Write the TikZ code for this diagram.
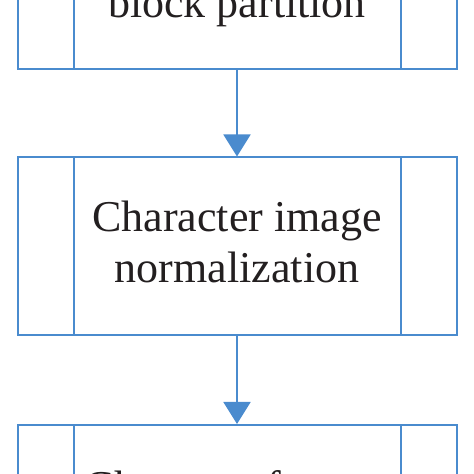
\documentclass[tikz,border=0pt]{standalone}
\usepackage{fontspec}
\setmainfont{Liberation Serif}
\usetikzlibrary{positioning,arrows.meta}

\definecolor{flowblue}{RGB}{74,139,206}
\definecolor{inktext}{RGB}{35,31,32}

\tikzset{
    procbox/.style={draw=flowblue, line width=2pt, rectangle,
        minimum width=439pt, minimum height=177.5pt,
        path picture={
            \draw[flowblue, line width=2pt]
                ([xshift=56pt]path picture bounding box.north west) --
                ([xshift=56pt]path picture bounding box.south west);
            \draw[flowblue, line width=2pt]
                ([xshift=-56pt]path picture bounding box.north east) --
                ([xshift=-56pt]path picture bounding box.south east);
        }},
    boxtext/.style={anchor=base, inner sep=0pt, text=inktext,
        font=\fontsize{44}{51}\selectfont},
    flowarrow/.style={draw=flowblue, line width=2pt,
        -{Triangle[width=27pt,length=22pt]}}
}

\begin{document}
\begin{tikzpicture}[x=1pt,y=1pt]
        % Fix the visible window
        \useasboundingbox (0,0) rectangle (474,474);
        \clip (0,0) rectangle (474,474);

        % Draw process boxes
        \node[procbox] (normalize) at (237,227.75) {};
        \node[procbox, above=86pt of normalize] (partition) {};
        \node[procbox, below=88pt of normalize] (feature) {};

        % Box texts, two lines each
        \node[boxtext] (partition-b) at ([yshift=-36.75pt]partition.center) {block partition};
        \node[boxtext] (normalize-a) at ([yshift=14.25pt]normalize.center) {Character image};
        \node[boxtext] (normalize-b) at ([yshift=-36.75pt]normalize.center) {normalization};
        \node[boxtext] (feature-a) at ([yshift=12.25pt]feature.center) {Character feature};

        % Draw arrows between boxes
        \draw[flowarrow] (partition) -- (normalize);
        \draw[flowarrow] (normalize) -- (feature);
\end{tikzpicture}
\end{document}
